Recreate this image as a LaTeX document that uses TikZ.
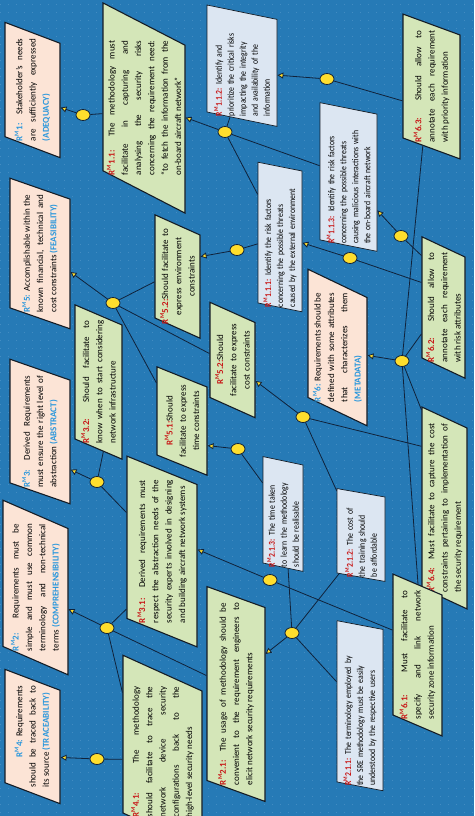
\documentclass[tikz,border=0pt]{standalone}
\usepackage{fontspec}
\setmainfont{Carlito}
\newfontfamily\riskfamily[FakeStretch=0.86]{Carlito}
\usepackage{xcolor}
\usepackage{tikz}
\usetikzlibrary{shapes.geometric,arrows.meta,calc}

\definecolor{bgblue}{RGB}{38,122,182}
\definecolor{dotcol}{RGB}{66,140,194}
\definecolor{needfill}{RGB}{252,228,214}
\definecolor{reqfill}{RGB}{212,230,184}
\definecolor{riskfill}{RGB}{220,230,242}
\definecolor{refyellow}{RGB}{255,222,45}
\definecolor{boxline}{RGB}{20,28,38}
\definecolor{linecol}{RGB}{16,34,58}
\definecolor{labred}{RGB}{200,22,22}
\definecolor{labblue}{RGB}{40,150,220}

\newcommand{\rid}[1]{\textbf{\textcolor{labred}{R\textsuperscript{M}#1:}}}
\newcommand{\nid}[1]{\textbf{\textcolor{labblue}{R\textsuperscript{M}#1:}}}
\newcommand{\kw}[1]{\textbf{\textcolor{labblue}{#1}}}

\tikzset{
  goal/.style={trapezium, trapezium left angle=61, trapezium right angle=119,
    trapezium stretches=true, rotate=90, draw=boxline, line width=1.1pt,
    inner xsep=-4.5pt, inner ysep=1pt, align=justify,
    font={\fontsize{9}{13.3}\selectfont}},
  need/.style={goal, fill=needfill},
  req/.style={goal, fill=reqfill},
  risk/.style={goal, trapezium left angle=76, trapezium right angle=104,
    fill=riskfill, line width=0.7pt, inner xsep=-4pt, align=left,
    font={\riskfamily\fontsize{9}{12}\selectfont}},
  refine/.style={ellipse, draw=linecol, fill=refyellow, line width=0.8pt,
    minimum width=14pt, minimum height=11pt, inner sep=0pt},
  link/.style={draw=linecol, line width=0.8pt},
  toparent/.style={link, -{Triangle[length=6pt, width=6pt, fill=refyellow]}},
}

\begin{document}
\begin{tikzpicture}[x=1pt, y=-1pt]
\fill[bgblue] (0,0) rectangle (474,816);
\useasboundingbox (0,0) rectangle (474,816);
\foreach \gy in {4,12,...,812}
  \draw[dotcol, line width=0.7pt, dash pattern=on 0.7pt off 7.3pt] (0,\gy) -- (474,\gy);

\node[need, text width=102.5pt, minimum height=55pt] (rm1) at (32.5,90)
  {\nid{1} Stakeholder’s needs\linebreak are sufficiently expressed\linebreak \kw{(ADEQUACY)}};
\node[need, text width=117.8pt, minimum height=60pt] (rm5) at (40,253.5)
  {\nid{5} Accomplishable within the\linebreak known financial, technical and\linebreak cost constraints \kw{(FEASIBILITY)}};
\node[need, text width=111.8pt, minimum height=60pt] (rm3) at (40,431.5)
  {\nid{3} Derived Requirements\linebreak must ensure the right level of\linebreak abstraction \kw{(ABSTRACT)}};
\node[need, text width=127pt, minimum height=65pt] (rm2) at (35.5,587.5)
  {\nid{2} Requirements must be\linebreak simple and must use common\linebreak terminology and non-technical\linebreak terms \kw{(COMPREHENSIBILITY)}};
\node[need, text width=101.5pt, minimum height=55pt] (rm4) at (32.5,736.5)
  {\hspace*{\fill}\nid{4} Requirements\linebreak should be traced back to\linebreak its source \kw{(TRACEABILITY)}};
\node[need, text width=109pt, minimum height=59pt] (rm6) at (337.5,347.5)
  {\nid{6} Requirements should be\linebreak defined with some attributes\linebreak that characterizes them\linebreak \kw{(METADATA)}};

\node[req, text width=134.6pt, minimum height=82pt] (rm1_1) at (144,108)
  {\rid{1.1} The methodology must\linebreak facilitate in capturing and\linebreak analysing the security risks\linebreak concerning the requirement need:\linebreak “to fetch the information from the\linebreak on-board aircraft network”};
\node[req, align=center, text width=100pt, inner xsep=-8.5pt, minimum height=45pt] (rm5_2a) at (177.5,276.5)
  {\rid{5.2}Should facilitate to\\ express environment\\ constraints};
\node[req, align=center, text width=84pt, minimum height=45pt] (rm5_2b) at (232.5,360)
  {\rid{5.2}Should\\ facilitate to express\\ cost constraints};
\node[req, text width=123pt, minimum height=47pt] (rm3_2) at (98.5,382)
  {\rid{3.2} Should facilitate to\linebreak know when to start considering\linebreak network infrastructure};
\node[req, align=center, text width=77pt, minimum height=50pt] (rm5_1) at (182,421)
  {\rid{5.1}Should\\ facilitate to express\\ time constraints};
\node[req, text width=143pt, minimum height=70pt] (rm3_1) at (162,551.5)
  {\rid{3.1} Derived requirements must\linebreak respect the abstraction needs of the\linebreak security experts involved in designing\linebreak and building aircraft network systems};
\node[req, text width=131pt, minimum height=79pt] (rm4_1) at (162.5,752)
  {\rid{4.1} The methodology\linebreak should facilitate to trace the\linebreak network device security\linebreak configurations back to the\linebreak high-level security needs};
\node[req, text width=182pt, minimum height=58pt] (rm2_1) at (236,694)
  {\rid{2.1} The usage of methodology should be\linebreak convenient to the requirement engineers to\linebreak elicit network security requirements};
\node[req, text width=112pt, minimum height=57pt] (rm6_3) at (431.5,86.5)
  {\rid{6.3} Should allow to\linebreak annotate each requirement\linebreak with priority information};
\node[req, text width=110pt, minimum height=43pt] (rm6_2) at (443.5,307.5)
  {\rid{6.2} Should allow to\linebreak annotate each requirement\linebreak with risk attributes};
\node[req, text width=169pt, minimum height=45pt] (rm6_4) at (444.5,508)
  {\rid{6.4} Must facilitate to capture the cost\linebreak constraints pertaining to implementation of\linebreak the security requirement};
\node[req, text width=129pt, minimum height=49pt] (rm6_1) at (417.5,655)
  {\rid{6.1} Must facilitate to\linebreak specify and link network\linebreak security zone information};

\node[risk, text width=100.6pt, minimum height=70pt] (rm1_1_2) at (242,65.7)
  {\rid{1.1.2} Identify and\\ prioritize the critical risks\\ impacting the integrity\\ and availability of the\\ information};
\node[risk, text width=133.8pt, minimum height=57pt] (rm1_1_3) at (348.5,177)
  {\rid{1.1.3} Identify the risk factors\\ concerning the possible threats\\ causing malicious interactions with\\ the on-board aircraft network};
\node[risk, text width=140pt, minimum height=44pt] (rm1_1_1) at (280,237)
  {\rid{1.1.1} Identify the risk factors\\ concerning the possible threats\\ caused by the external environment};
\node[risk, text width=106pt, minimum height=40pt] (rm2_1_3) at (283,514)
  {\rid{2.1.3} The time taken\\ to learn the methodology\\ should be realisable};
\node[risk, text width=84pt, minimum height=48pt] (rm2_1_2) at (361,535)
  {\rid{2.1.2} The cost of\\ the training should\\ be affordable};
\node[risk, text width=160.5pt, minimum height=46pt] (rm2_1_1) at (360,705.7)
  {\rid{2.1.1} The terminology employed by\\ the SRE methodology must be easily\\ understood by the respective users};

\node[refine] (ref_rm1) at (83,115) {};
\draw[toparent] (ref_rm1) -- ($(rm1.bottom left corner)!0.44!(rm1.bottom right corner)$);
\draw[link] (ref_rm1) -- ($(rm1_1.top left corner)!0.34!(rm1_1.top right corner)$);

\node[refine] (ref_rm1_1) at (225,132) {};
\draw[toparent] (ref_rm1_1) -- ($(rm1_1.bottom left corner)!0.57!(rm1_1.bottom right corner)$);
\draw[link] (ref_rm1_1) -- ($(rm1_1_2.bottom left corner)!0.67!(rm1_1_2.top left corner)$);
\draw[link] (ref_rm1_1) -- ($(rm1_1_1.top left corner)!0.77!(rm1_1_1.top right corner)$);
\draw[link] (ref_rm1_1) -- ($(rm1_1_3.top left corner)!0.54!(rm1_1_3.top right corner)$);

\node[refine] (ref_rm1_1_2) at (327,79) {};
\draw[toparent] (ref_rm1_1_2) -- ($(rm1_1_2.bottom left corner)!0.48!(rm1_1_2.bottom right corner)$);
\draw[link] (ref_rm1_1_2) -- ($(rm6_3.top left corner)!0.30!(rm6_3.top right corner)$);

\node[refine] (ref_rm1_1_3) at (401,236) {};
\draw[toparent] (ref_rm1_1_3) -- ($(rm1_1_3.bottom left corner)!0.30!(rm1_1_3.bottom right corner)$);
\draw[link] (ref_rm1_1_3) -- ($(rm6_2.top left corner)!0.84!(rm6_2.top right corner)$);

\node[refine] (ref_rm1_1_1) at (350,258) {};
\draw[toparent] (ref_rm1_1_1) -- ($(rm1_1_1.bottom left corner)!0.49!(rm1_1_1.bottom right corner)$);
\draw[link] (ref_rm1_1_1) -- ($(rm6_2.top left corner)!0.62!(rm6_2.top right corner)$);

\node[refine] (ref_rm6) at (402,361) {};
\draw[toparent] (ref_rm6) -- ($(rm6.bottom left corner)!0.55!(rm6.bottom right corner)$);
\draw[link] (ref_rm6) -- ($(rm6_3.bottom left corner)!0.65!(rm6_3.top left corner)$);
\draw[link] (ref_rm6) -- ($(rm6_2.top left corner)!0.20!(rm6_2.top right corner)$);
\draw[link] (ref_rm6) -- ($(rm6_4.top left corner)!0.98!(rm6_4.top right corner)$);
\draw[link] (ref_rm6) -- ($(rm6_1.bottom right corner)!0.49!(rm6_1.top right corner)$);

\node[refine] (ref_rm5_2b) at (303,417) {};
\draw[toparent] (ref_rm5_2b) -- ($(rm5_2b.bottom left corner)!0.39!(rm5_2b.bottom right corner)$);
\draw[link] (ref_rm5_2b) -- ($(rm6_4.top left corner)!0.78!(rm6_4.top right corner)$);
\draw[link] (ref_rm5_2b) -- ($(rm2_1_2.top left corner)!0.97!(rm2_1_2.top right corner)$);

\node[refine] (ref_rm5_1) at (238,449) {};
\draw[toparent] (ref_rm5_1) -- ($(rm5_1.bottom left corner)!0.34!(rm5_1.bottom right corner)$);
\draw[link] (ref_rm5_1) -- ($(rm2_1_3.top left corner)!0.75!(rm2_1_3.top right corner)$);

\node[refine] (ref_rm5) at (113,303) {};
\draw[toparent] (ref_rm5) -- ($(rm5.bottom left corner)!0.44!(rm5.bottom right corner)$);
\draw[link] (ref_rm5) -- ($(rm5_2a.top left corner)!0.35!(rm5_2a.top right corner)$);
\draw[link] (ref_rm5) -- ($(rm5_1.top left corner)!0.81!(rm5_1.top right corner)$);
\draw[link] (ref_rm5) -- ($(rm5_2b.top left corner)!0.46!(rm5_2b.top right corner)$);

\node[refine] (ref_rm5_2a) at (237,250) {};
\draw[toparent] (ref_rm5_2a) -- ($(rm5_2a.bottom left corner)!0.79!(rm5_2a.bottom right corner)$);
\draw[link] (ref_rm5_2a) -- ($(rm1_1_1.top left corner)!0.42!(rm1_1_1.top right corner)$);

\node[refine] (ref_rm3) at (97,482) {};
\draw[toparent] (ref_rm3) -- ($(rm3.bottom left corner)!0.28!(rm3.bottom right corner)$);
\draw[link] (ref_rm3) -- ($(rm3_2.bottom left corner)!0.40!(rm3_2.top left corner)$);
\draw[link] (ref_rm3) -- ($(rm3_1.top left corner)!0.65!(rm3_1.top right corner)$);

\node[refine] (ref_rm2) at (107,628) {};
\draw[toparent] (ref_rm2) -- ($(rm2.bottom left corner)!0.45!(rm2.bottom right corner)$);
\draw[link] (ref_rm2) -- ($(rm3_1.top left corner)!0.06!(rm3_1.top right corner)$);
\draw[link] (ref_rm2) -- ($(rm4_1.top left corner)!0.76!(rm4_1.top right corner)$);
\draw[link] (ref_rm2) -- ($(rm2_1.top left corner)!0.54!(rm2_1.top right corner)$);

\node[refine] (ref_rm4) at (97,759) {};
\draw[toparent] (ref_rm4) -- ($(rm4.bottom left corner)!0.41!(rm4.bottom right corner)$);
\draw[link] (ref_rm4) -- ($(rm4_1.top left corner)!0.34!(rm4_1.top right corner)$);

\node[refine] (ref_rm2_1) at (292,633) {};
\draw[toparent] (ref_rm2_1) -- ($(rm2_1.bottom left corner)!0.76!(rm2_1.bottom right corner)$);
\draw[link] (ref_rm2_1) -- ($(rm2_1_1.top left corner)!0.62!(rm2_1_1.top right corner)$);
\draw[link] (ref_rm2_1) -- ($(rm2_1_2.bottom left corner)!0.95!(rm2_1_2.top left corner)$);
\draw[link] (ref_rm2_1) -- ($(rm2_1_3.bottom left corner)!0.375!(rm2_1_3.top left corner)$);

\node[refine] (ref_rm3_1) at (270,580) {};
\draw[toparent] (ref_rm3_1) -- ($(rm3_1.bottom left corner)!0.60!(rm3_1.bottom right corner)$);
\draw[link] (ref_rm3_1) -- ($(rm6_1.top left corner)!0.60!(rm6_1.top right corner)$);

\end{tikzpicture}
\end{document}
